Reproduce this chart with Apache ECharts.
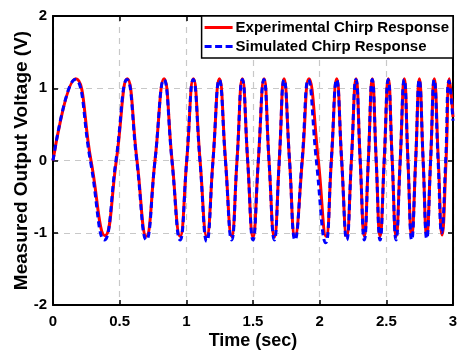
<!DOCTYPE html>
<html>
<head>
<meta charset="utf-8">
<script src="https://cdn.jsdelivr.net/npm/echarts@6/dist/echarts.min.js"></script>
<style>html,body{margin:0;padding:0;background:#fff}#c{width:474px;height:355px}</style>
</head>
<body>
<div id="c"></div>
<script>
// Time (sec) of the read-off points
const timeExp = [0,0.17,0.285,0.39,0.475,0.557,0.63,0.70,0.765,0.833,0.893,0.953,1.003,1.053,1.103,1.153,1.20,1.248,1.294,1.34,1.38,1.42,1.46,1.50,1.54,1.583,1.62,1.66,1.697,1.733,1.774,1.815,1.87,1.92,1.99,2.048,2.088,2.128,2.165,2.203,2.238,2.273,2.304,2.335,2.365,2.395,2.424,2.453,2.484,2.515,2.544,2.573,2.604,2.635,2.662,2.69,2.72,2.748,2.776,2.803,2.832,2.86,2.89,2.918,2.948,2.973,3.0];
const voltExp = [0,1.13,0,-1.04,0,1.13,0,-1.05,0,1.13,0,-1.05,0,1.13,0,-1.05,0,1.13,0,-1.05,0,1.13,0,-1.06,0,1.13,0,-1.06,0,1.13,0,-1.05,0,1.13,0,-1.05,0,1.13,0,-1.05,0,1.13,0,-1.05,0,1.13,0,-1.05,0,1.13,0,-1.05,0,1.13,0,-1.04,0,1.13,0,-1.04,0,1.13,0,-1.03,0,1.13,0.6];
const timeSim = [0,0.165,0.28,0.385,0.472,0.555,0.628,0.70,0.765,0.832,0.892,0.953,1.003,1.052,1.102,1.153,1.20,1.247,1.293,1.34,1.38,1.42,1.46,1.50,1.54,1.582,1.62,1.66,1.697,1.733,1.774,1.815,1.868,1.915,1.975,2.045,2.087,2.127,2.165,2.203,2.238,2.272,2.304,2.335,2.365,2.394,2.424,2.453,2.484,2.514,2.544,2.573,2.604,2.634,2.662,2.69,2.72,2.747,2.776,2.803,2.832,2.859,2.888,2.915,2.945,2.97,3.0];
const voltSim = [0,1.12,0,-1.1,0,1.12,0,-1.1,0,1.12,0,-1.1,0,1.12,0,-1.12,0,1.12,0,-1.1,0,1.12,0,-1.1,0,1.12,0,-1.1,0,1.12,0,-1.1,0,1.12,0,-1.14,0,1.12,0,-1.1,0,1.12,0,-1.1,0,1.12,0,-1.1,0,1.12,0,-1.1,0,1.12,0,-1.1,0,1.12,0,-1.08,0,1.12,0,-1.0,0,1.1,0.55];
const xTicks = [0,0.5,1,1.5,2,2.5,3];
const yTicks = [-2,-1,0,1,2];
const seriesNames = ['Experimental Chirp Response','Simulated Chirp Response'];

const pairs = (t, v) => t.map((x, i) => [x, v[i]]);
const font = 'Liberation Sans, Arial, sans-serif';

const chart = echarts.init(document.getElementById('c'), null, {renderer: 'canvas'});
const axisLine = {show: true, onZero: false, lineStyle: {color: '#000', width: 2}};
const tick = {show: true, inside: true, length: 5, lineStyle: {color: '#000', width: 1.5}};
chart.setOption({
  animation: false,
  backgroundColor: '#fff',
  grid: {left: 53, right: 21, top: 16, bottom: 50, containLabel: false, outerBoundsMode: 'none'},
  legend: {
    orient: 'vertical', right: 21, top: 16,
    data: [
      {name: seriesNames[0], icon: 'path://M0,0H28V3H0Z'},
      {name: seriesNames[1], icon: 'path://M0,0H7V3H0ZM10.5,0H17.5V3H10.5ZM21,0H28V3H21Z'}
    ],
    backgroundColor: '#fff', borderColor: '#000', borderWidth: 1.5,
    padding: [4, 4, 4, 3], itemGap: 4, itemWidth: 28, itemHeight: 3,
    textStyle: {fontFamily: font, fontWeight: 'bold', fontSize: 15, color: '#000', padding: [0, 0, 0, -2]}
  },
  xAxis: [{
    type: 'value', min: xTicks[0], max: xTicks[xTicks.length-1], interval: 0.5,
    name: 'Time (sec)', nameLocation: 'middle', nameGap: 27, nameMoveOverlap: false,
    nameTextStyle: {fontFamily: font, fontWeight: 'bold', fontSize: 18, color: '#000'},
    axisLine: axisLine, axisTick: tick,
    axisLabel: {fontFamily: font, fontWeight: 'bold', fontSize: 15, color: '#000', margin: 9},
    splitLine: {show: true, lineStyle: {color: '#c8c8c8', type: [6, 5], width: 1.2}}
  }, {
    type: 'value', position: 'top', min: 0, max: 3, interval: 0.5,
    axisLine: axisLine, axisTick: tick, axisLabel: {show: false}, splitLine: {show: false}
  }],
  yAxis: [{
    type: 'value', min: yTicks[0], max: yTicks[yTicks.length-1], interval: 1,
    name: 'Measured Output Voltage (V)', nameLocation: 'middle', nameGap: 22, nameMoveOverlap: false,
    nameTextStyle: {fontFamily: font, fontWeight: 'bold', fontSize: 19, color: '#000'},
    axisLine: axisLine, axisTick: tick,
    axisLabel: {fontFamily: font, fontWeight: 'bold', fontSize: 15, color: '#000', margin: 6},
    splitLine: {show: true, lineStyle: {color: '#c8c8c8', type: [6, 5], width: 1.2}}
  }, {
    type: 'value', position: 'right', min: -2, max: 2, interval: 1,
    axisLine: axisLine, axisTick: tick, axisLabel: {show: false}, splitLine: {show: false}
  }],
  series: [{
    name: seriesNames[0], type: 'line', data: pairs(timeExp, voltExp),
    smooth: 0.5, symbol: 'none', showSymbol: false,
    lineStyle: {color: '#ff0000', width: 3}, itemStyle: {color: '#ff0000'}
  }, {
    name: seriesNames[1], type: 'line', data: pairs(timeSim, voltSim),
    smooth: 0.5, symbol: 'none', showSymbol: false,
    lineStyle: {color: '#0000ff', width: 3, type: [6, 4]}, itemStyle: {color: '#0000ff'}
  }]
});
</script>
</body>
</html>
